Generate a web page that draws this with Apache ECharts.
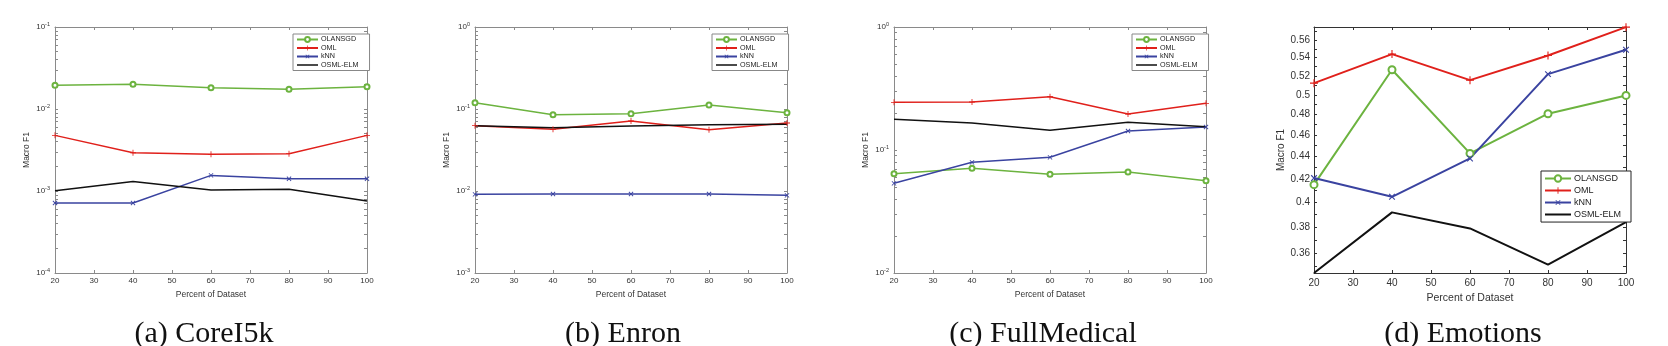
<!DOCTYPE html>
<html>
<head>
<meta charset="utf-8">
<script src="https://cdn.jsdelivr.net/npm/echarts@6/dist/echarts.min.js"></script>
<style>
  html, body { margin: 0; padding: 0; background: #fff; }
  #chart { width: 1668px; height: 346px; }
</style>
</head>
<body>
<div id="chart"></div>
<script>
var percents = [20, 40, 60, 80, 100];
var methods = ['OLANSGD', 'OML', 'kNN', 'OSML-ELM'];
var captions = ['(a) CoreI5k', '(b) Enron', '(c) FullMedical', '(d) Emotions'];

var corel_olansgd = [0.0195, 0.0200, 0.0182, 0.0174, 0.0187];
var corel_oml = [0.00477, 0.00293, 0.00280, 0.00285, 0.00477];
var corel_knn = [0.000714, 0.000714, 0.00155, 0.00141, 0.00141];
var corel_osml = [0.00101, 0.00131, 0.00103, 0.00105, 0.000755];

var enron_olansgd = [0.119, 0.0853, 0.0877, 0.112, 0.0902];
var enron_oml = [0.0626, 0.0565, 0.0714, 0.0560, 0.0675];
var enron_knn = [0.0091, 0.0092, 0.0092, 0.0092, 0.00885];
var enron_osml = [0.0626, 0.0592, 0.0621, 0.0644, 0.0650];

var medical_olansgd = [0.0642, 0.0709, 0.0634, 0.0662, 0.0563];
var medical_oml = [0.244, 0.2455, 0.2714, 0.196, 0.2395];
var medical_knn = [0.0536, 0.0794, 0.0872, 0.1427, 0.1538];
var medical_osml = [0.1775, 0.1658, 0.1445, 0.168, 0.1548];

var emotions_olansgd = [0.4149, 0.5266, 0.4427, 0.4807, 0.4993];
var emotions_oml = [0.5122, 0.5440, 0.5154, 0.5425, 0.5753];
var emotions_knn = [0.4206, 0.4046, 0.4381, 0.5219, 0.5490];
var emotions_osml = [0.3454, 0.3917, 0.3789, 0.3514, 0.3839];

var yRanges = [[1e-4, 1e-1], [1e-3, 1], [1e-2, 1], [0.3454, 0.5755]];
var emotionsTicks = [0.36, 0.38, 0.4, 0.42, 0.44, 0.46, 0.48, 0.5, 0.52, 0.54, 0.56];
var emotionsMinor = [0.35, 0.37, 0.39, 0.41, 0.43, 0.45, 0.47, 0.49, 0.51, 0.53, 0.55, 0.57];

var allData = [
  [corel_olansgd, corel_oml, corel_knn, corel_osml],
  [enron_olansgd, enron_oml, enron_knn, enron_osml],
  [medical_olansgd, medical_oml, medical_knn, medical_osml],
  [emotions_olansgd, emotions_oml, emotions_knn, emotions_osml]
];

var colors = ['#6cb33f', '#e0201b', '#3a43a0', '#111111'];
var plusPath = 'path://M4.3,0H5.7V10H4.3Z M0,4.3H10V5.7H0Z';
// plain line legend icon (tiny zero-area points keep the full box height)
var lineIcon = 'path://M0,0L0,0Z M0,38H100V62H0Z M0,100L0,100Z';
var gridLefts = [55, 475, 894, 1314];
var legendPos = [[293, 34], [712, 34], [1132, 34], [1541, 171]];
var captionX = [204, 623, 1043, 1463];

// log ticks: powers of ten plus minor 2..9
function logTicks(lo, hi) {
  var out = [];
  for (var e = Math.round(Math.log10(lo)); e <= Math.round(Math.log10(hi)); e++) {
    for (var k = 1; k <= 9; k++) {
      var v = k * Math.pow(10, e);
      if (v <= hi * 1.0001) out.push(v);
    }
  }
  return out;
}
function powers(lo, hi) {
  var out = [];
  for (var e = Math.round(Math.log10(lo)); e <= Math.round(Math.log10(hi)); e++) out.push(Math.pow(10, e));
  return out;
}

var grids = [], xAxes = [], yAxes = [], series = [], legends = [], titles = [];

for (var i = 0; i < 4; i++) {
  var big = i === 3;
  var axisCol = big ? '#333' : '#8a8a8a';
  var lblFont = big ? 10 : 8;
  grids.push({ left: gridLefts[i], top: 27, width: 312, height: 246, containLabel: false });

  var xBase = {
    type: 'value', gridIndex: i, min: 20, max: 100, interval: 10,
    axisLine: { show: true, onZero: false, lineStyle: { color: axisCol, width: 1 } },
    axisTick: { show: true, inside: true, length: 3, lineStyle: { color: axisCol } },
    splitLine: { show: false }
  };
  xAxes.push(Object.assign({}, xBase, {
    position: 'bottom',
    name: 'Percent of Dataset', nameLocation: 'middle', nameGap: big ? 18 : 13,
    nameTextStyle: { fontFamily: 'Liberation Sans', fontSize: big ? 10.5 : 8.5, color: '#333' },
    axisLabel: { show: true, margin: big ? 5 : 4, fontFamily: 'Liberation Sans', fontSize: lblFont, color: '#333' }
  }));
  xAxes.push(Object.assign({}, xBase, { position: 'top', axisLabel: { show: false } }));

  var yr = yRanges[i];
  var labelVals = big ? emotionsTicks : powers(yr[0], yr[1]);
  var tickVals = big ? emotionsTicks.concat(emotionsMinor) : logTicks(yr[0], yr[1]);
  var yBase = {
    type: 'log', logBase: 10, gridIndex: i, min: yr[0], max: yr[1],
    axisLine: { show: true, onZero: false, lineStyle: { color: axisCol, width: 1 } },
    axisTick: { show: true, inside: true, length: 3, customValues: tickVals, lineStyle: { color: axisCol } },
    splitLine: { show: false }
  };
  yAxes.push(Object.assign({}, yBase, {
    position: 'left',
    name: 'Macro F1', nameLocation: 'middle', nameGap: big ? 28 : 24, nameRotate: 90,
    nameTextStyle: { fontFamily: 'Liberation Sans', fontSize: big ? 10 : 8.5, color: '#333' },
    axisLabel: {
      show: true, customValues: labelVals, margin: big ? 4 : 5,
      fontFamily: 'Liberation Sans', fontSize: lblFont, color: '#333',
      formatter: big ? function (v) { return String(+v.toFixed(2)); } : function (v) {
        return '10{s|' + Math.round(Math.log10(v)) + '}';
      },
      rich: { s: { fontSize: 5.5, fontFamily: 'Liberation Sans', color: '#333', verticalAlign: 'bottom', padding: [0, 0, 5, 0] } }
    }
  }));
  yAxes.push(Object.assign({}, yBase, { position: 'right', axisLabel: { show: false } }));

  var symSize = big ? 7 : 5;
  for (var m = 0; m < 4; m++) {
    var vals = allData[i][m];
    var pts = percents.map(function (p, j) { return [p, vals[j]]; });
    var s = {
      name: methods[m], type: 'line', xAxisIndex: 2 * i, yAxisIndex: 2 * i,
      data: pts, color: colors[m],
      lineStyle: { width: big ? 2 : 1.5, color: colors[m] },
      symbolSize: symSize, showSymbol: true, animation: false
    };
    if (m === 0) { s.symbol = 'emptyCircle'; s.itemStyle = { color: colors[m], borderWidth: 1.5 }; }
    else if (m === 1) { s.symbol = plusPath; s.symbolSize = symSize + 1; }
    else if (m === 2) { s.symbol = plusPath; s.symbolRotate = 45; s.symbolSize = symSize + 1; }
    else { s.symbol = 'none'; }
    series.push(s);
  }

  legends.push({
    orient: 'vertical', left: legendPos[i][0], top: legendPos[i][1],
    data: methods.map(function (n) { return n === 'OSML-ELM' ? { name: n, icon: lineIcon } : n; }),
    selectedMode: false, symbolKeepAspect: false,
    backgroundColor: '#fff', borderColor: big ? '#222' : '#888', borderWidth: 1,
    padding: big ? [3, 10, 3, 3] : [2, 11, 2, 3],
    itemWidth: big ? 26 : 21, itemHeight: big ? 8 : 6, itemGap: big ? 3 : 1.5,
    textStyle: { fontFamily: 'Liberation Sans', fontSize: big ? 9 : 7.2, color: '#222', padding: [0, 0, 0, -2] }
  });

  titles.push({
    text: captions[i], left: captionX[i], top: 319, textAlign: 'center', padding: 0,
    textStyle: { fontFamily: 'Liberation Serif', fontWeight: 'normal', fontSize: 30, color: '#111' }
  });
}

var myChart = echarts.init(document.getElementById('chart'));
myChart.setOption({
  animation: false,
  backgroundColor: '#fff',
  title: titles,
  grid: grids,
  xAxis: xAxes,
  yAxis: yAxes,
  legend: legends,
  series: series
});
window.addEventListener('resize', function () { myChart.resize(); });
</script>
</body>
</html>
